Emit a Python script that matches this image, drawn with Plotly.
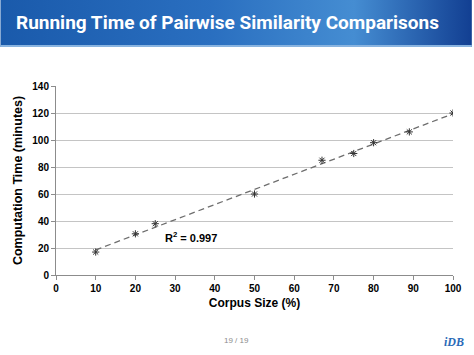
import numpy as np
import plotly.graph_objects as go

corpus_size = [10, 20, 25, 50, 67, 75, 80, 89, 100]
comp_time = [17, 30.5, 38, 60, 85, 90, 98, 106, 120]
x_ticks = [0, 10, 20, 30, 40, 50, 60, 70, 80, 90, 100]
y_ticks = [0, 20, 40, 60, 80, 100, 120, 140]
r2_label = "R<sup>2</sup> = 0.997"
title_text = "Running Time of Pairwise Similarity Comparisons"
page_text = "19 / 19"

slope, intercept = np.polyfit(corpus_size, comp_time, 1)
fit_x = [min(corpus_size), max(corpus_size)]
fit_y = [slope * v + intercept for v in fit_x]

svg = ("data:image/svg+xml;utf8,<svg xmlns='http://www.w3.org/2000/svg' width='474' height='47'>"
       "<defs><linearGradient id='g' x1='0' y1='0' x2='1' y2='0'>"
       "<stop offset='0' stop-color='%231a5aab'/><stop offset='0.45' stop-color='%232a6fc0'/>"
       "<stop offset='0.75' stop-color='%23458dd2'/><stop offset='1' stop-color='%23123f92'/>"
       "</linearGradient></defs><rect width='474' height='47' fill='url(%23g)'/>"
       "<rect y='45' width='474' height='2' fill='%2389b4e0'/></svg>")

fig = go.Figure()
fig.add_trace(go.Scatter(x=fit_x, y=fit_y, mode="lines",
                         line=dict(color="#6e6e6e", width=1.3, dash="6px,4px"),
                         hoverinfo="skip", showlegend=False))
fig.add_trace(go.Scatter(x=corpus_size, y=comp_time, mode="markers",
                         marker=dict(symbol="asterisk-open", size=6, color="#333333",
                                     line=dict(color="#333333", width=1)),
                         showlegend=False))

fig.add_annotation(x=27, y=28, xref="x", yref="y", text=r2_label, showarrow=False,
                   xanchor="left", font=dict(family="Liberation Sans, Arial", size=11, color="black", weight="bold"))

fig.update_layout(
    width=474, height=355,
    margin=dict(l=56, r=19, t=86, b=80),
    paper_bgcolor="white", plot_bgcolor="white",
    images=[dict(source=svg, xref="paper", yref="paper", x=-56/399, y=1 + 86/189,
                 sizex=474/399, sizey=47/189, xanchor="left", yanchor="top",
                 sizing="stretch", layer="below")],
    xaxis=dict(range=[0, 100], tickvals=x_ticks, showgrid=False, zeroline=False,
               showline=True, linecolor="#8c8c8c", linewidth=1, ticks="outside",
               tickcolor="#8c8c8c", ticklen=4,
               tickfont=dict(family="Liberation Sans, Arial", size=10, color="black", weight="bold"),
               title=dict(text="Corpus Size (%)", standoff=5,
                          font=dict(family="Liberation Sans, Arial", size=12, color="black", weight="bold"))),
    yaxis=dict(range=[0, 140], tickvals=y_ticks, showgrid=True, gridcolor="#c4c4c4", gridwidth=1,
               zeroline=False, showline=True, linecolor="#8c8c8c", linewidth=1, ticks="outside",
               tickcolor="#8c8c8c", ticklen=4,
               tickfont=dict(family="Liberation Sans, Arial", size=10, color="black", weight="bold"),
               title=dict(text="Computation Time (minutes)", standoff=6,
                          font=dict(family="Liberation Sans, Arial", size=12.5, color="black", weight="bold"))),
)

fig.add_annotation(x=-56/399 + 14/399, y=1 + (86 - 22)/189, xref="paper", yref="paper",
                   text=title_text, showarrow=False, xanchor="left", yanchor="middle",
                   font=dict(family="Roboto", size=19, color="white", weight="bold"))
fig.add_annotation(x=(237 - 56)/399, y=-(340 - 275)/189, xref="paper", yref="paper",
                   text=page_text, showarrow=False, xanchor="center", yanchor="middle",
                   font=dict(family="Liberation Sans, Arial", size=8, color="#8c8c8c"))
fig.add_annotation(x=(468 - 56)/399, y=-(342 - 275)/189, xref="paper", yref="paper",
                   text="<i><b>iDB</b></i>", showarrow=False, xanchor="right", yanchor="middle",
                   font=dict(family="Liberation Serif", size=12, color="#2a6bb8"))

fig.write_html("out.html", config={"displayModeBar": False},
               post_script="document.body.style.margin='0';")
